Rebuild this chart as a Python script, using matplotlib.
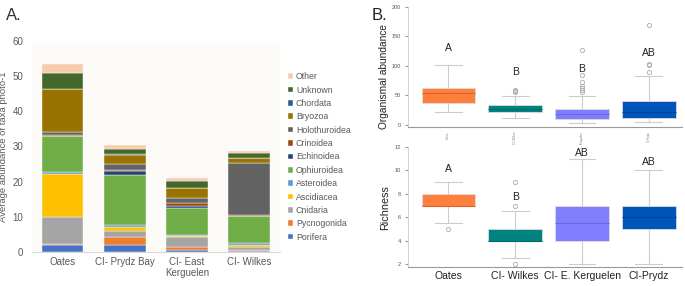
import matplotlib.pyplot as plt
import numpy as np

plt.rcParams['font.family'] = ['Liberation Sans', 'DejaVu Sans']

# ---- panel A: stacked bars ----
sites = ['Oates', 'CI- Prydz Bay', 'CI- East\nKerguelen', 'CI- Wilkes']
taxa = ['Porifera', 'Pycnogonida', 'Cnidaria', 'Ascidiacea', 'Asteroidea', 'Ophiuroidea',
        'Echinoidea', 'Crinoidea', 'Holothuroidea', 'Bryozoa', 'Chordata', 'Unknown', 'Other']
porifera = [1.9, 2.1, 0.5, 0.4]
pycnogonida = [0.4, 2.1, 0.8, 0.1]
cnidaria = [7.7, 1.7, 3.0, 0.8]
ascidiacea = [12.2, 1.1, 0.1, 0.8]
asteroidea = [0.6, 0.6, 0.3, 0.4]
ophiuroidea = [10.2, 14.3, 7.7, 7.8]
echinoidea = [0.0, 1.2, 0.6, 0.0]
crinoidea = [0.2, 0.3, 0.8, 0.1]
holothuroidea = [0.9, 1.5, 1.4, 14.9]
bryozoa = [12.2, 2.6, 2.9, 1.3]
chordata = [0.0, 0.3, 0.2, 0.0]
unknown = [4.5, 1.6, 1.8, 1.4]
other = [2.6, 0.9, 0.8, 0.8]
taxa_values = [porifera, pycnogonida, cnidaria, ascidiacea, asteroidea, ophiuroidea,
               echinoidea, crinoidea, holothuroidea, bryozoa, chordata, unknown, other]
taxa_colors = ['#4472C4', '#ED7D31', '#A5A5A5', '#FFC000', '#5B9BD5', '#70AD47',
               '#264478', '#9E480E', '#636363', '#997300', '#255E91', '#43682B', '#F8CBAD']

# ---- panel B: box plot summaries ----
groups = ['Oates', 'CI- Wilkes', 'CI- E. Kerguelen', 'CI-Prydz']
group_colors = ['#FF7F3F', '#00827F', '#8080FF', '#0055BB']
median_colors = ['#D9652A', '#006B68', '#6A6AE0', '#00449A']

abund_q1 = [37, 22, 10, 11]
abund_med = [53, 26, 18, 21]
abund_q3 = [63, 33, 26, 40]
abund_lo = [21, 12, 2, 4]
abund_hi = [102, 49, 48, 83]
abund_out = [[], [55, 57, 58], [55, 58, 62, 65, 72, 84, 127], [90, 102, 103, 170]]
abund_letters = ['A', 'B', 'B', 'AB']
abund_letter_y = [130, 89, 94, 121]

rich_q1 = [7, 4, 4, 5]
rich_med = [7, 4, 5.5, 6]
rich_q3 = [8, 5, 7, 7]
rich_lo = [5.5, 2.5, 2, 2]
rich_hi = [9, 6.5, 11, 10]
rich_out = [[5], [2, 7, 9], [], []]
rich_letters = ['A', 'B', 'AB', 'AB']
rich_letter_y = [10.1, 7.7, 11.5, 10.75]

fig = plt.figure(figsize=(6.85, 2.86), dpi=100)

# panel A
axA = fig.add_axes([0.046, 0.119, 0.363, 0.738])
axA.set_facecolor('#FCFBF8')
x = np.arange(len(sites))
bottom = np.zeros(len(sites))
for name, vals, col in zip(taxa, taxa_values, taxa_colors):
    axA.bar(x, vals, 0.67, bottom=bottom, color=col, label=name,
            edgecolor='white', linewidth=0.3)
    bottom += np.array(vals)
axA.set_ylim(0, 60)
axA.set_xlim(-0.5, 3.5)
axA.set_xticks(x)
axA.set_xticklabels(sites, fontsize=7, color='#595959')
axA.set_yticks(range(0, 61, 10))
axA.tick_params(axis='y', labelsize=7, labelcolor='#595959', length=0, pad=6)
axA.tick_params(axis='x', length=0)
for s in ['top', 'right', 'left']:
    axA.spines[s].set_visible(False)
axA.spines['bottom'].set_color('#D9D9D9')
axA.set_ylabel('Average abundance of taxa photo-1', fontsize=6.8, color='#595959', labelpad=3)
handles, labels = axA.get_legend_handles_labels()
axA.legend(handles[::-1], labels[::-1], loc='center left', bbox_to_anchor=(1.0, 0.45),
           frameon=False, fontsize=6.3, handlelength=0.6, handleheight=0.6,
           handletextpad=0.3, labelspacing=0.5, labelcolor='#595959')
fig.text(0.008, 0.93, 'A.', fontsize=12, color='#333333')


def draw_box(ax, q1, med, q3, lo, hi, out):
    stats = []
    for i in range(len(groups)):
        stats.append(dict(q1=q1[i], med=med[i], q3=q3[i], whislo=lo[i], whishi=hi[i],
                          fliers=out[i]))
    bp = ax.bxp(stats, positions=range(len(groups)), widths=0.8, patch_artist=True,
                showfliers=True,
                whiskerprops=dict(color='#CCCCCC', linewidth=0.8),
                capprops=dict(color='#CCCCCC', linewidth=0.8),
                flierprops=dict(marker='o', markersize=3, markerfacecolor='none',
                                markeredgecolor='#AAAAAA', markeredgewidth=0.6))
    for i, patch in enumerate(bp['boxes']):
        patch.set_facecolor(group_colors[i])
        patch.set_edgecolor('#DDDDDD')
        patch.set_linewidth(0.6)
        bp['medians'][i].set_color(median_colors[i])
        bp['medians'][i].set_linewidth(0.8)
    ax.set_xlim(-0.6, 3.5)
    for s in ['top', 'right']:
        ax.spines[s].set_visible(False)
    ax.spines['left'].set_color('#CCCCCC')
    ax.spines['bottom'].set_color('#999999')
    ax.spines['left'].set_linewidth(0.6)
    ax.tick_params(axis='y', labelsize=4, labelcolor='#555555', length=2, color='#999999')


axB1 = fig.add_axes([0.596, 0.556, 0.40, 0.42])
draw_box(axB1, abund_q1, abund_med, abund_q3, abund_lo, abund_hi, abund_out)
axB1.set_ylim(-4, 200)
axB1.set_yticks([0, 50, 100, 150, 200])
axB1.set_xticks(range(len(groups)))
axB1.set_xticklabels(groups, fontsize=2, rotation=90, color='#777777')
axB1.tick_params(axis='x', length=0)
axB1.set_ylabel('Organismal abundance', fontsize=7.3, color='#222222')
axB1.yaxis.set_label_coords(-0.07, 0.42)
for i, (t, yv) in enumerate(zip(abund_letters, abund_letter_y)):
    axB1.text(i, yv, t, ha='center', va='center', fontsize=7.5, color='#222222')
fig.text(0.543, 0.93, 'B.', fontsize=12, color='#222222')

axB2 = fig.add_axes([0.596, 0.066, 0.40, 0.42])
draw_box(axB2, rich_q1, rich_med, rich_q3, rich_lo, rich_hi, rich_out)
axB2.set_ylim(1.75, 12)
axB2.set_yticks([2, 4, 6, 8, 10, 12])
axB2.set_xticks(range(len(groups)))
axB2.set_xticklabels(groups, fontsize=7.5, color='#222222')
axB2.tick_params(axis='x', length=0, pad=3)
axB2.set_ylabel('Richness', fontsize=7.8, color='#222222')
axB2.yaxis.set_label_coords(-0.065, 0.5)
for i, (t, yv) in enumerate(zip(rich_letters, rich_letter_y)):
    axB2.text(i, yv, t, ha='center', va='center', fontsize=7.5, color='#222222')

fig.savefig('out.png', dpi=100)
